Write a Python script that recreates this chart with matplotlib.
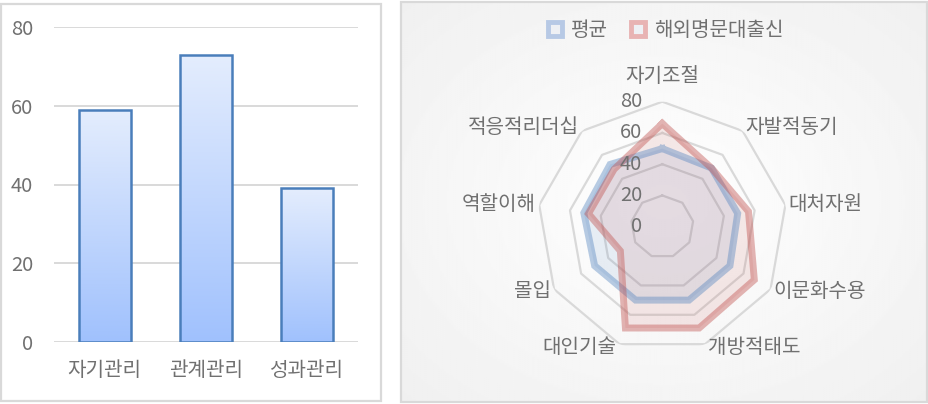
import numpy as np
import matplotlib
matplotlib.use("Agg")
import matplotlib.pyplot as plt
from matplotlib.patches import Rectangle
from matplotlib.lines import Line2D

plt.rcParams['font.family'] = ['Noto Sans CJK KR', 'DejaVu Sans']

# bar chart data
bar_cats = ['자기관리', '관계관리', '성과관리']
bar_vals = [59, 73, 39]
bar_ticks = [0, 20, 40, 60, 80]

# radar data
radar_cats = ['자기조절', '자발적동기', '대처자원', '이문화수용', '개방적태도',
              '대인기술', '몰입', '역할이해', '적응적리더십']
avg_vals = [50, 49, 49, 50, 50, 50, 50, 51, 52]
elite_vals = [66, 49, 56, 68, 69, 69, 31, 48, 48]
series_names = ['평균', '해외명문대출신']
radar_ticks = [0, 20, 40, 60, 80]

W, H = 929, 404
fig = plt.figure(figsize=(W / 100, H / 100), dpi=100)
fig.patch.set_facecolor('white')

txt = '#707070'
grid_c = '#D9D9D9'
fs = 14.5


def fx(px):
    return px / W


def fy(py):
    return 1 - py / H


# right panel background: soft radial gradient
bg = fig.add_axes([fx(401), fy(402), fx(927) - fx(401), fy(2) - fy(402)], zorder=-5)
yy, xx = np.mgrid[-1:1:200j, -1:1:300j]
rr = np.sqrt(xx ** 2 + yy ** 2) / np.sqrt(2)
bg.imshow(1 - 0.06 * rr, cmap='gray', vmin=0, vmax=1, aspect='auto',
          extent=[0, 1, 0, 1])
bg.set_axis_off()

# panel borders
for x0, y0, x1, y1 in [(1.5, 3.5, 381, 401), (401, 2, 927.5, 401.5)]:
    fig.patches.append(Rectangle((fx(x0), fy(y1)), fx(x1) - fx(x0), fy(y0) - fy(y1),
                                 transform=fig.transFigure, fill=False,
                                 edgecolor=grid_c, lw=1.6, zorder=10))

# ---- bar chart ----
ax = fig.add_axes([fx(54), fy(342), fx(358) - fx(54), fy(27) - fy(342)])
xpos = np.arange(len(bar_cats))
bars = ax.bar(xpos, bar_vals, width=0.51, color='none', edgecolor='#4A7EBB',
              lw=1.8, zorder=3)
grad = np.linspace(0, 1, 256).reshape(-1, 1)
cmap = matplotlib.colors.LinearSegmentedColormap.from_list('g', ['#E4EDFD', '#A0C1FD'])
for b in bars:
    x0, y0 = b.get_x(), b.get_y()
    im = ax.imshow(grad, cmap=cmap, aspect='auto', zorder=2,
                   extent=[x0, x0 + b.get_width(), y0, y0 + b.get_height()])
    im.set_clip_path(b)
ax.set_xlim(-0.5, 2.5)
ax.set_ylim(0, 80)
ax.set_yticks(bar_ticks)
ax.set_xticks(xpos)
ax.set_xticklabels(bar_cats)
ax.grid(axis='y', color=grid_c, lw=1.4, zorder=0)
ax.set_axisbelow(True)
for s in ax.spines.values():
    s.set_visible(False)
ax.tick_params(length=0, colors=txt, labelsize=fs)
ax.tick_params(axis='y', pad=15)
ax.tick_params(axis='x', pad=13)

# ---- radar chart ----
cx, cy, R = 662.3, 226.7, 125
rax = fig.add_axes([fx(cx - R), fy(cy + R), fx(2 * R), fy(cy - R) - fy(cy + R)],
                   projection='polar')
rax.set_facecolor('none')
rax.set_theta_zero_location('N')
rax.set_theta_direction(-1)
rax.set_ylim(0, 80)
rax.grid(False)
rax.spines['polar'].set_visible(False)
rax.set_xticks([])
rax.set_yticks([])

n = len(radar_cats)
ang = np.linspace(0, 2 * np.pi, n, endpoint=False)
ang_c = np.append(ang, ang[0])
for t in radar_ticks[1:]:
    rax.plot(ang_c, [t] * (n + 1), color=grid_c, lw=1.6, zorder=1)

for vals, col, la in [(avg_vals, '#4F81BD', 0.4), (elite_vals, '#C0504D', 0.42)]:
    v = np.append(vals, vals[0])
    rax.fill(ang_c, v, color=col, alpha=0.12, lw=0, zorder=2)
    rax.plot(ang_c, v, color=col, alpha=la, lw=5, zorder=3, solid_joinstyle='miter')

for t in radar_ticks:
    rax.annotate(str(t), xy=(0, t), xytext=(-20, 0), textcoords='offset pixels',
                 ha='right', va='center', color=txt, fontsize=fs, zorder=5)

for a, lab in zip(ang, radar_cats):
    s, c = np.sin(a), np.cos(a)
    if abs(s) < 0.01:
        ha, off = 'center', (0, 25)
    else:
        ha = 'left' if s > 0 else 'right'
        off = (3 * np.sign(s), 4 * c)
    rax.annotate(lab, xy=(a, 80), xytext=off, textcoords='offset pixels',
                 ha=ha, va='center', color=txt, fontsize=fs, annotation_clip=False)

handles = [Line2D([], [], ls='none', marker='s', ms=10, mew=3.5,
                  mec=col, mfc='#EEF0F4')
           for col in ['#B7C9E5', '#E8B3B3']]
fig.legend(handles, series_names, loc='center', bbox_to_anchor=(fx(664), fy(31)),
           ncol=2, frameon=False, fontsize=fs, labelcolor=txt,
           handletextpad=0.3, columnspacing=1.0, handlelength=1.0)

fig.savefig('out.png', dpi=100, facecolor='white')
